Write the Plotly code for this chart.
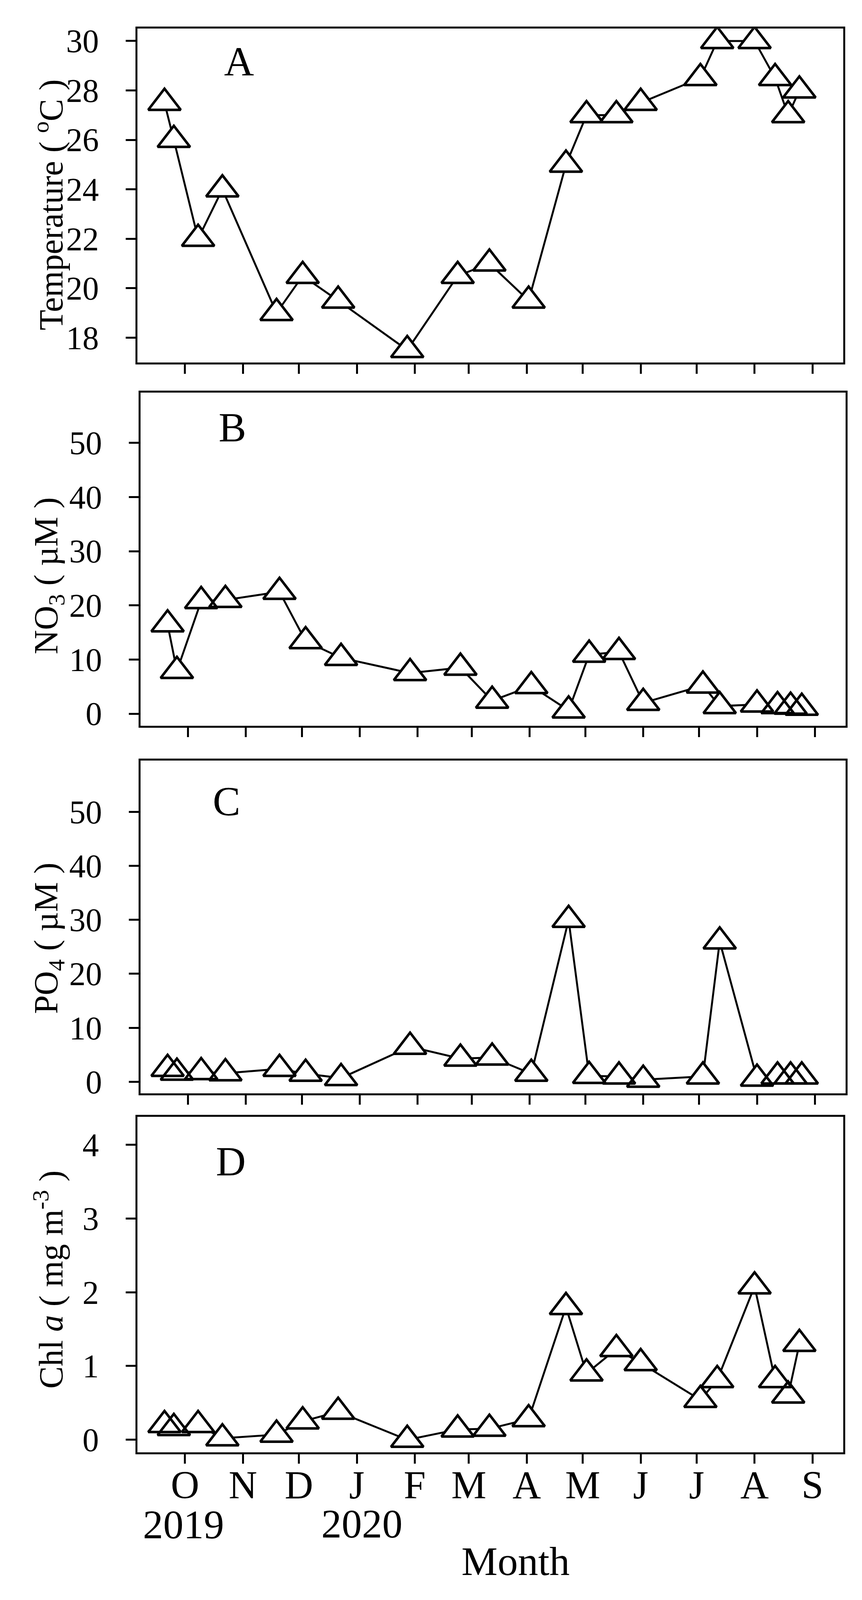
import plotly.graph_objects as go

# ---------------- data ----------------
dates = ["2019-09-20", "2019-09-25", "2019-10-08", "2019-10-21", "2019-11-19",
         "2019-12-03", "2019-12-22", "2020-01-28", "2020-02-24", "2020-03-12",
         "2020-04-02", "2020-04-22", "2020-05-03", "2020-05-19", "2020-06-01",
         "2020-07-03", "2020-07-12", "2020-08-01", "2020-08-12", "2020-08-19",
         "2020-08-25"]
temperature = [27.5, 26.0, 22.0, 24.0, 19.0, 20.5, 19.5, 17.5, 20.5, 21.0, 19.5,
               25.0, 27.0, 27.0, 27.5, 28.5, 30.0, 30.0, 28.5, 27.0, 28.0]
no3 = [16.5, 7.9, 20.8, 21.0, 22.5, 13.4, 10.3, 7.5, 8.5, 2.4, 5.1,
       0.6, 10.9, 11.4, 2.0, 5.2, 1.4, 1.7, 1.4, 1.3, 1.1]
po4 = [2.4, 1.7, 1.8, 1.6, 2.4, 1.5, 0.7, 6.5, 4.3, 4.5, 1.5,
       30.0, 1.1, 1.0, 0.4, 1.0, 26.0, 0.6, 1.0, 1.0, 1.0]
chl = [0.2, 0.16, 0.2, 0.02, 0.07, 0.25, 0.38, 0.0, 0.14, 0.15, 0.28,
       1.8, 0.9, 1.23, 1.04, 0.54, 0.81, 2.08, 0.81, 0.6, 1.3]

month_ticks = ["2019-10-01", "2019-11-01", "2019-12-01", "2020-01-01", "2020-02-01",
               "2020-03-01", "2020-04-01", "2020-05-01", "2020-06-01", "2020-07-01",
               "2020-08-01", "2020-09-01"]
month_labels = ["O", "N", "D", "J", "F", "M", "A", "M", "J", "J", "A", "S"]

panel_letters = ["A", "B", "C", "D"]
y_titles = ["Temperature ( <sup>o</sup>C )", "NO<sub>3</sub> ( µM )",
            "PO<sub>4</sub> ( µM )", "Chl <i>a</i> ( mg m<sup>-3</sup> )"]
y_ranges = [[17.0, 30.5], [-2.2, 59.3], [-2.1, 59.5], [-0.17, 4.38]]
y_tickvals = [[18, 20, 22, 24, 26, 28, 30], [0, 10, 20, 30, 40, 50],
              [0, 10, 20, 30, 40, 50], [0, 1, 2, 3, 4]]
series = [temperature, no3, po4, chl]

# ---------------- layout geometry ----------------
# reference geometry is measured on a 2208 x 4323 canvas; the visible page is
# 2208 x 4096, so vertical positions are kept as fractions of the height.
W, H_REF, H = 2208, 4323, 4096
FONT = "Liberation Serif"
panel_px = [(63, 972), (1054, 1961), (2056, 2962), (3026, 3940)]
xdom_px = [(352, 2160), (360, 2166), (360, 2166), (352, 2160)]
letter_px = [(612, 153), (595, 1149), (580, 2167), (591, 3148)]
ytitle_py = [543, 1553, 2540, 3470]
F = 0.96  # font scale

def py(v):
    return 1 - v / H_REF

def px(v):
    return v / W

fig = go.Figure()
layout = dict(width=W, height=H, margin=dict(l=0, r=0, t=0, b=0, pad=0),
              paper_bgcolor="white", plot_bgcolor="white", showlegend=False,
              font=dict(family=FONT, color="black"))
annotations = []

for i in range(4):
    n = "" if i == 0 else str(i + 1)
    xa, ya = "x" + n, "y" + n
    common = dict(x=dates, y=series[i], xaxis=xa, yaxis=ya, hoverinfo="skip")
    fig.add_trace(go.Scatter(mode="lines", line=dict(color="black", width=5), **common))
    fig.add_trace(go.Scatter(mode="markers",
                             marker=dict(symbol="triangle-up", size=72, color="white",
                                         line=dict(width=0)), **common))
    fig.add_trace(go.Scatter(mode="markers",
                             marker=dict(symbol="triangle-up", size=72, color="rgba(0,0,0,0)",
                                         line=dict(color="black", width=6.5)), **common))
    t, b = panel_px[i]
    x0, x1 = xdom_px[i]
    layout["xaxis" + n] = dict(
        domain=[px(x0), px(x1)], anchor=ya, type="date",
        range=["2019-09-05 12:00", "2020-09-17 12:00"],
        tickmode="array", tickvals=month_ticks, ticktext=month_labels,
        showticklabels=(i == 3), ticks="outside", ticklen=24, tickwidth=5,
        tickcolor="black", showline=True, linecolor="black", linewidth=5,
        mirror=True, showgrid=False, zeroline=False,
        tickfont=dict(family=FONT, size=round(105 * F), color="black"),
        ticklabelstandoff=-32)
    layout["yaxis" + n] = dict(
        domain=[py(b), py(t)], anchor=xa, range=y_ranges[i],
        tickmode="array", tickvals=y_tickvals[i],
        ticks="outside", ticklen=25, tickwidth=5, tickcolor="black",
        showline=True, linecolor="black", linewidth=5, mirror=True,
        showgrid=False, zeroline=False,
        tickfont=dict(family=FONT, size=round(88 * F), color="black"),
        ticklabelstandoff=52)
    lx, ly = letter_px[i]
    annotations.append(dict(text=panel_letters[i], x=px(lx), y=py(ly), xref="paper",
                            yref="paper", xanchor="center", yanchor="middle",
                            showarrow=False,
                            font=dict(family=FONT, size=round(110 * F), color="black")))
    annotations.append(dict(text=y_titles[i], x=px(124), y=py(ytitle_py[i]), xref="paper",
                            yref="paper", xanchor="center", yanchor="middle", textangle=-90,
                            showarrow=False,
                            font=dict(family=FONT, size=round(90 * F), color="black")))

annotations.append(dict(text="2019", x=px(470), y=py(4136), xref="paper", yref="paper",
                        xanchor="center", yanchor="middle", showarrow=False,
                        font=dict(family=FONT, size=round(108 * F), color="black")))
annotations.append(dict(text="2020", x=px(927), y=py(4134), xref="paper", yref="paper",
                        xanchor="center", yanchor="middle", showarrow=False,
                        font=dict(family=FONT, size=round(108 * F), color="black")))
annotations.append(dict(text="Month", x=px(1320), y=py(4236), xref="paper", yref="paper",
                        xanchor="center", yanchor="middle", showarrow=False,
                        font=dict(family=FONT, size=round(108 * F), color="black")))
layout["annotations"] = annotations
fig.update_layout(**layout)

fig.write_html("out.html", config={"displayModeBar": False},
               post_script="document.body.style.margin='0';document.body.style.overflow='hidden';")
